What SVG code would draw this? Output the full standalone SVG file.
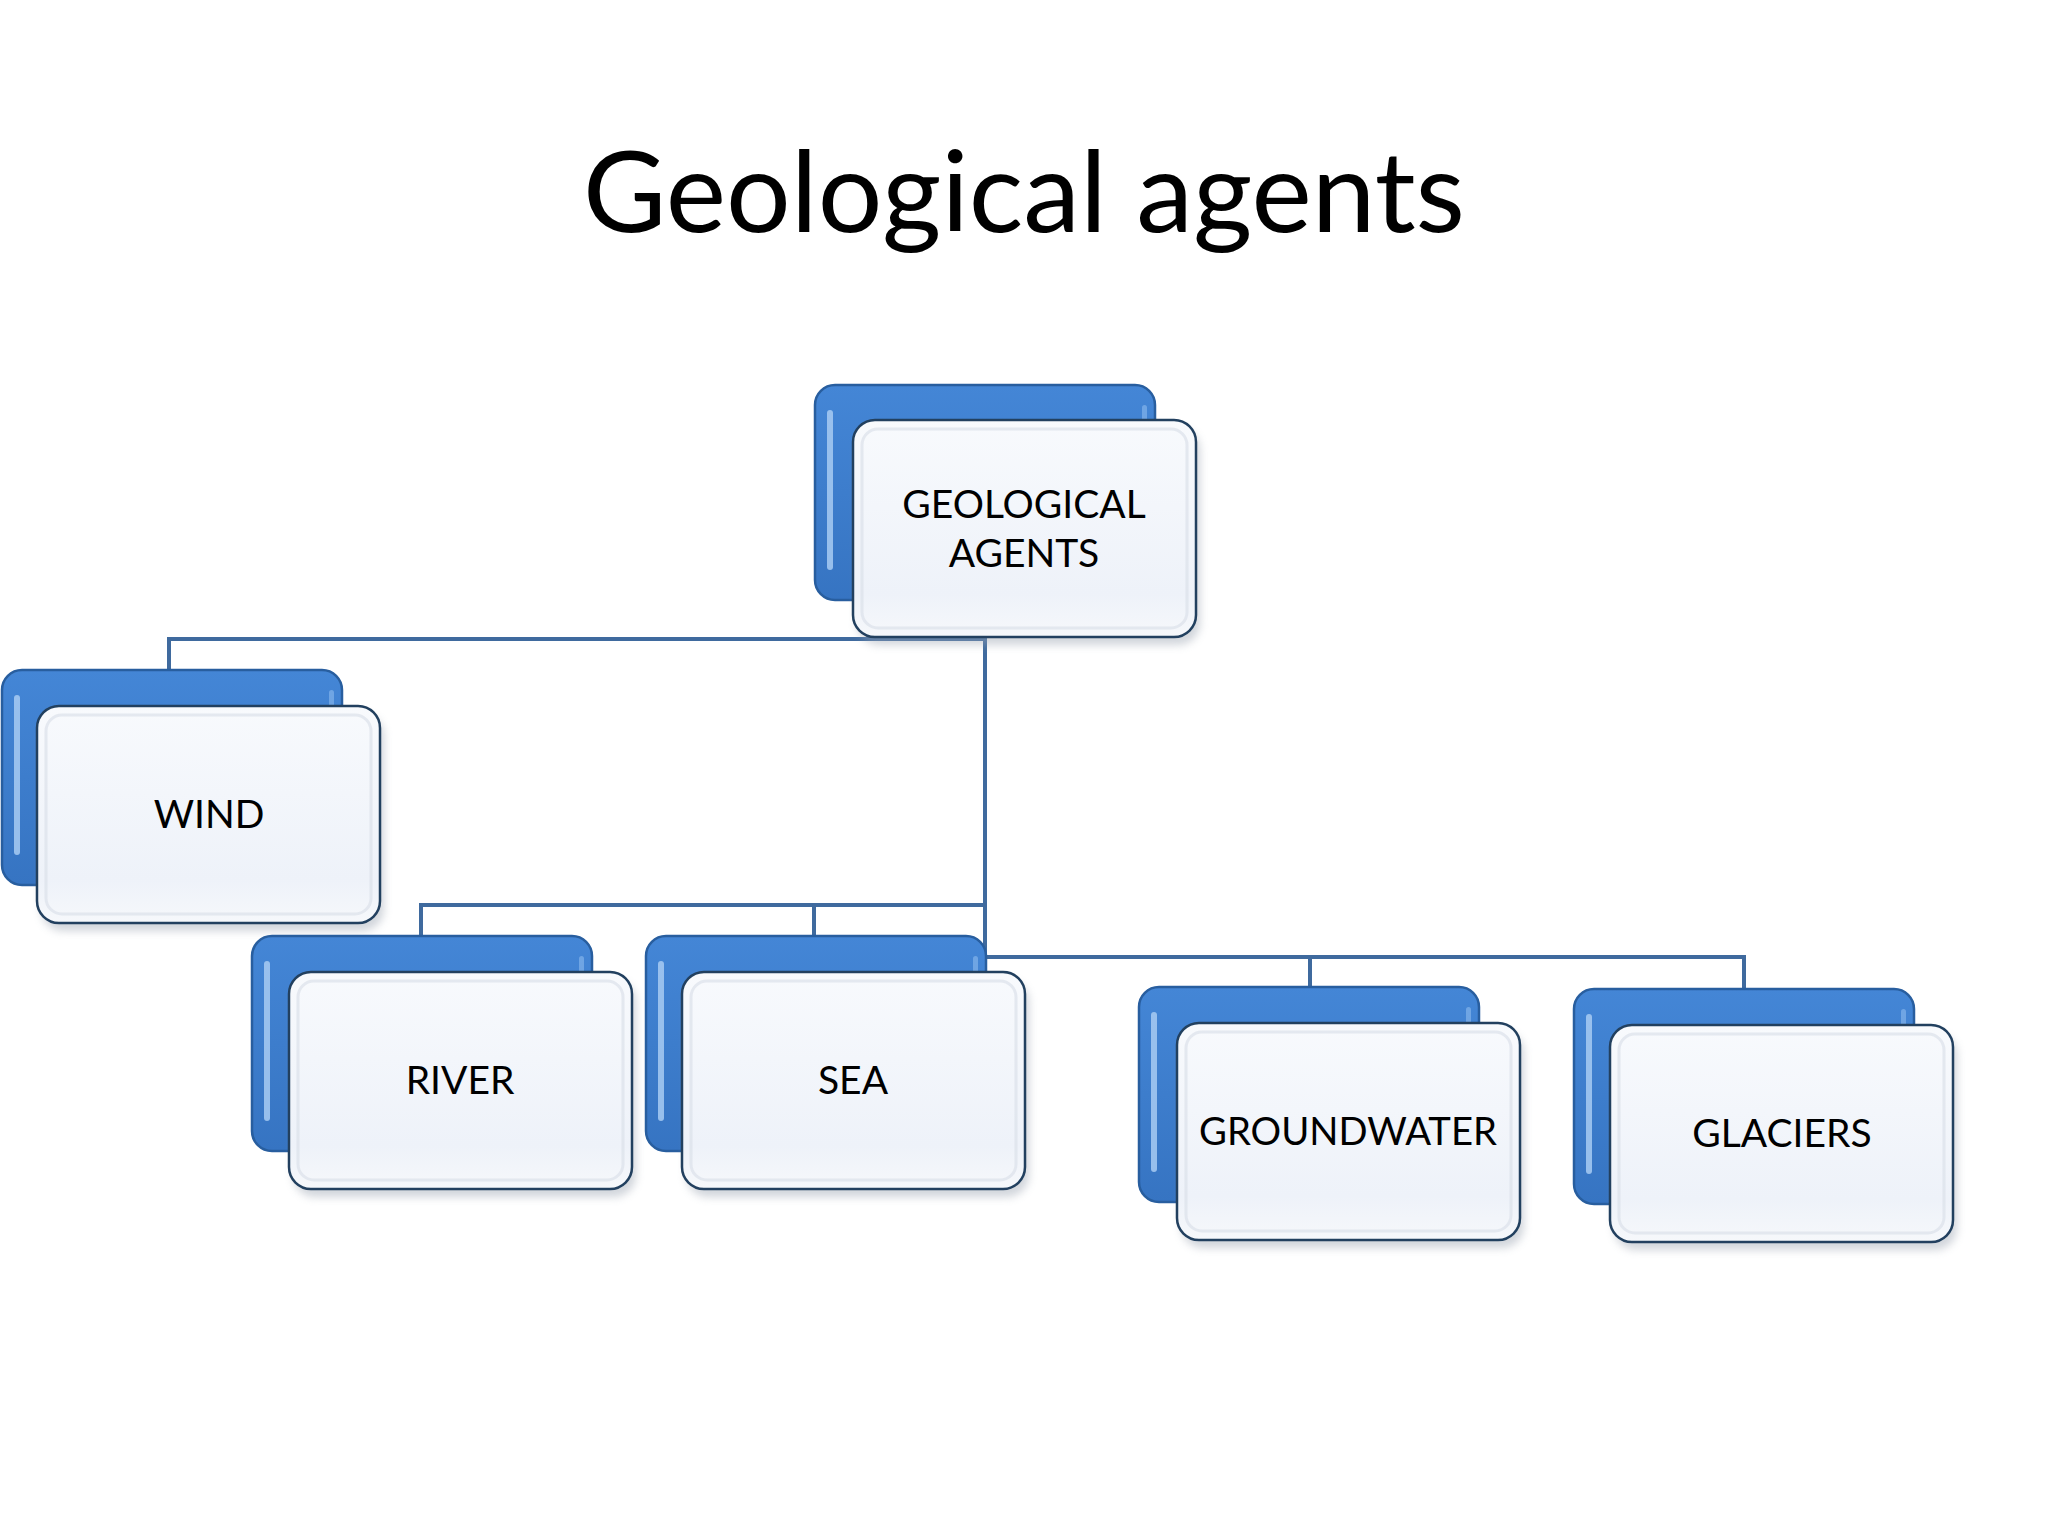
<svg xmlns="http://www.w3.org/2000/svg" width="2048" height="1536" viewBox="0 0 2048 1536">
  <defs>
    <linearGradient id="blueG" x1="0" y1="0" x2="0" y2="1">
      <stop offset="0" stop-color="#4486D6"/>
      <stop offset="1" stop-color="#3674C2"/>
    </linearGradient>
    <linearGradient id="whiteG" x1="0" y1="0" x2="0" y2="1">
      <stop offset="0" stop-color="#F8FAFD"/>
      <stop offset="0.8" stop-color="#EEF2F9"/>
      <stop offset="1" stop-color="#F6F8FB"/>
    </linearGradient>
    <filter id="shadow" x="-10%" y="-10%" width="120%" height="130%">
      <feGaussianBlur stdDeviation="4"/>
    </filter>
  </defs>
  <style>
    .back { fill: url(#blueG); stroke: #285E9F; stroke-width: 2.5; }
    .hl { fill: #A8CBF2; opacity: 0.85; }
    .hr { fill: #8DBBEE; opacity: 0.6; }
    .shadow { fill: #9AA3B0; opacity: 0.45; filter: url(#shadow); }
    .front { fill: url(#whiteG); stroke: #22405F; stroke-width: 2.5; }
    .bevel { fill: none; stroke: #DCE1E9; stroke-width: 3; opacity: 0.7; }
    .label { font-family: Lato, "Open Sans", "Liberation Sans", sans-serif; font-size: 39px; fill: #000; text-anchor: middle; }
    .title { font-family: Lato, "Open Sans", "Liberation Sans", sans-serif; font-size: 112px; fill: #000; text-anchor: middle; }
    .conn { fill: none; stroke: #3F6A9E; stroke-width: 4; }
  </style>
  <rect width="2048" height="1536" fill="#FFFFFF"/>
  <text class="title" x="1024" y="232" textLength="882" lengthAdjust="spacingAndGlyphs">Geological agents</text>

  <g id="connectors">
    <path class="conn" d="M985 600 V957"/>
    <path class="conn" d="M169 672 V639 H985"/>
    <path class="conn" d="M421 938 V905 H985"/>
    <path class="conn" d="M814 905 V938"/>
    <path class="conn" d="M985 957 H1744 V991"/>
    <path class="conn" d="M1310 957 V989"/>
  </g>

  <g id="node-geological-agents">
    <rect class="back" x="815" y="385" width="340" height="215" rx="20"/>
    <rect class="hl" x="827" y="410" width="6" height="160" rx="3"/>
    <rect class="hr" x="1142" y="405" width="5" height="20" rx="2.5"/>
    <rect class="shadow" x="857" y="428" width="343" height="217" rx="22"/>
    <rect class="front" x="853" y="420" width="343" height="217" rx="22"/>
    <rect class="bevel" x="862" y="429" width="325" height="199" rx="16"/>
    <text class="label" x="1024" y="518">GEOLOGICAL</text>
    <text class="label" x="1024" y="567">AGENTS</text>
  </g>

  <g id="node-wind">
    <rect class="back" x="2" y="670" width="340" height="215" rx="20"/>
    <rect class="hl" x="14" y="695" width="6" height="160" rx="3"/>
    <rect class="hr" x="329" y="690" width="5" height="20" rx="2.5"/>
    <rect class="shadow" x="41" y="714" width="343" height="217" rx="22"/>
    <rect class="front" x="37" y="706" width="343" height="217" rx="22"/>
    <rect class="bevel" x="46" y="715" width="325" height="199" rx="16"/>
    <text class="label" x="209" y="828">WIND</text>
  </g>

  <g id="node-river">
    <rect class="back" x="252" y="936" width="340" height="215" rx="20"/>
    <rect class="hl" x="264" y="961" width="6" height="160" rx="3"/>
    <rect class="hr" x="579" y="956" width="5" height="20" rx="2.5"/>
    <rect class="shadow" x="293" y="980" width="343" height="217" rx="22"/>
    <rect class="front" x="289" y="972" width="343" height="217" rx="22"/>
    <rect class="bevel" x="298" y="981" width="325" height="199" rx="16"/>
    <text class="label" x="460" y="1094">RIVER</text>
  </g>

  <g id="node-sea">
    <rect class="back" x="646" y="936" width="340" height="215" rx="20"/>
    <rect class="hl" x="658" y="961" width="6" height="160" rx="3"/>
    <rect class="hr" x="973" y="956" width="5" height="20" rx="2.5"/>
    <rect class="shadow" x="686" y="980" width="343" height="217" rx="22"/>
    <rect class="front" x="682" y="972" width="343" height="217" rx="22"/>
    <rect class="bevel" x="691" y="981" width="325" height="199" rx="16"/>
    <text class="label" x="853" y="1094">SEA</text>
  </g>

  <g id="node-groundwater">
    <rect class="back" x="1139" y="987" width="340" height="215" rx="20"/>
    <rect class="hl" x="1151" y="1012" width="6" height="160" rx="3"/>
    <rect class="hr" x="1466" y="1007" width="5" height="20" rx="2.5"/>
    <rect class="shadow" x="1181" y="1031" width="343" height="217" rx="22"/>
    <rect class="front" x="1177" y="1023" width="343" height="217" rx="22"/>
    <rect class="bevel" x="1186" y="1032" width="325" height="199" rx="16"/>
    <text class="label" x="1348" y="1145" textLength="298" lengthAdjust="spacingAndGlyphs">GROUNDWATER</text>
  </g>

  <g id="node-glaciers">
    <rect class="back" x="1574" y="989" width="340" height="215" rx="20"/>
    <rect class="hl" x="1586" y="1014" width="6" height="160" rx="3"/>
    <rect class="hr" x="1901" y="1009" width="5" height="20" rx="2.5"/>
    <rect class="shadow" x="1614" y="1033" width="343" height="217" rx="22"/>
    <rect class="front" x="1610" y="1025" width="343" height="217" rx="22"/>
    <rect class="bevel" x="1619" y="1034" width="325" height="199" rx="16"/>
    <text class="label" x="1782" y="1147">GLACIERS</text>
  </g>
</svg>
